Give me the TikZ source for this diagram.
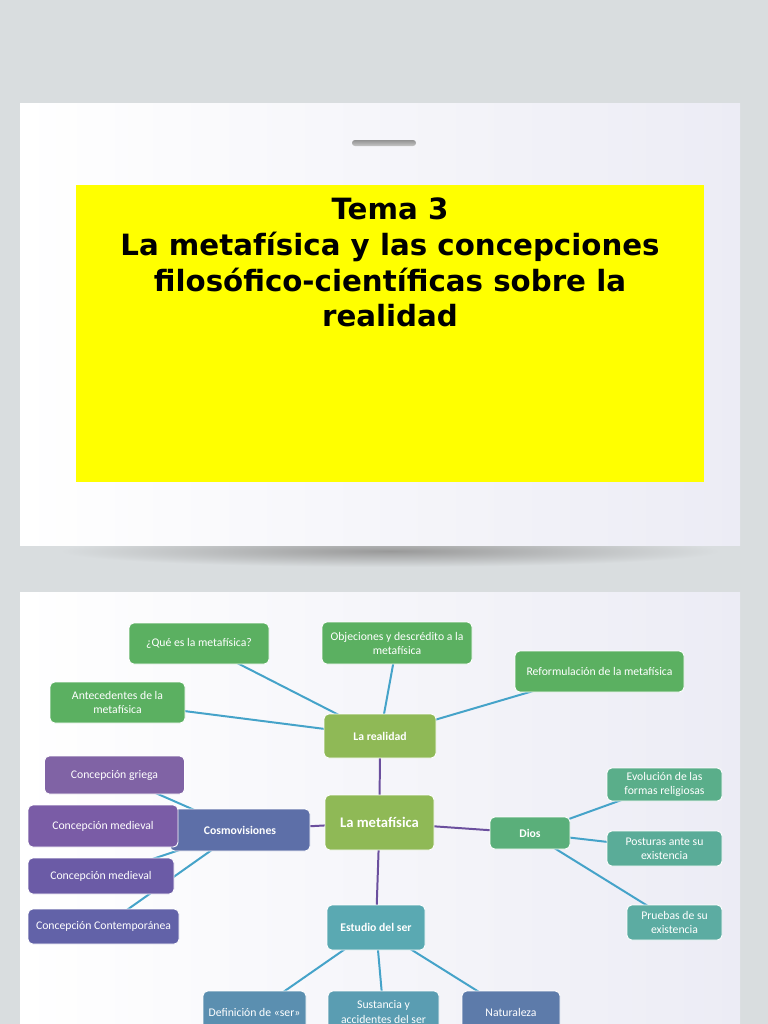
\documentclass[tikz,border=0pt]{standalone}
\usepackage{fontspec}
\setmainfont{Carlito}
\newfontfamily\titlefont{DejaVu Sans}
\usetikzlibrary{positioning}
\usepackage{xcolor}
\definecolor{frame}{HTML}{D9DDDF}
\definecolor{card}{HTML}{ECECF5}
\definecolor{banner}{HTML}{FFFF00}
\definecolor{leafgreen}{HTML}{5BB061}
\definecolor{hubolive}{HTML}{8FB956}
\definecolor{cosmo}{HTML}{5D6FA8}
\definecolor{griega}{HTML}{8063A5}
\definecolor{medA}{HTML}{7A5CA6}
\definecolor{medB}{HTML}{6B5BA6}
\definecolor{contemp}{HTML}{6262A8}
\definecolor{dios}{HTML}{5AAF7A}
\definecolor{evol}{HTML}{5AAE8A}
\definecolor{post}{HTML}{5AAC98}
\definecolor{prue}{HTML}{5CACA2}
\definecolor{estudio}{HTML}{5AA9B2}
\definecolor{defi}{HTML}{5B8FB0}
\definecolor{sust}{HTML}{5A9DB2}
\definecolor{natu}{HTML}{5D7BAA}
\definecolor{leafcol}{HTML}{45A3C9}
\definecolor{hubcol}{HTML}{6B4F9E}

\pgfdeclarelayer{bg}
\pgfdeclarelayer{links}
\pgfsetlayers{bg,links,main}

\begin{document}
\begin{tikzpicture}[
    x=0.03cm, y=-0.03cm,
    box/.style={draw=white, line width=0.8pt, rounded corners=4pt, text=white, align=center,
                inner sep=1pt, font=\fontsize{10}{12}\selectfont},
    hub/.style={box, font=\fontsize{10}{12}\selectfont\bfseries},
    boxsize/.style 2 args={minimum width=#1*0.03cm, minimum height=#2*0.03cm},
    leafline/.style={draw=leafcol, line width=1.7pt},
    hubline/.style={draw=hubcol, line width=1.7pt},
]
\useasboundingbox (0,0) rectangle (768,1024);

% Slides
\begin{pgfonlayer}{bg}
\fill[frame] (0,0) rectangle (768,1024);
\shade[inner color=black!40, outer color=frame] (390,551) ellipse (330 and 16);
\shade[left color=white, right color=card] (20,103) rectangle (740,545);
\shade[top color=gray!85, bottom color=gray!45, rounded corners=2.5pt] (352,140) rectangle (416,146);
\shade[left color=white, right color=card] (20,592) rectangle (740,1024);
\end{pgfonlayer}

% Slide 1: title
\fill[banner] (76,185) rectangle (704,482);
\node[font=\titlefont\bfseries\fontsize{25}{30.6}\selectfont, align=center] (title) at (390,262.5)
    {Tema 3\\La metafísica y las concepciones\\filosófico-científicas sobre la\\realidad};

% Slide 2: mind map
\node[hub, boxsize={109}{55}, fill=hubolive, font=\fontsize{12.5}{14}\selectfont\bfseries] (meta) at (379.5,822.5) {La metafísica};

% La realidad
\node[hub, boxsize={112}{44}, fill=hubolive] (real) at (380,736) {La realidad};
\node[box, boxsize={140}{41}, fill=leafgreen] (que) at (199,643.5) {¿Qué es la metafísica?};
\node[box, boxsize={150}{42}, fill=leafgreen] (obj) at (397,643) {Objeciones y descrédito a la\\metafísica};
\node[box, boxsize={169}{41}, fill=leafgreen] (refo) at (599.5,671.5) {Reformulación de la metafísica};
\node[box, boxsize={135}{41}, fill=leafgreen] (ante) at (117.5,702.5) {Antecedentes de la\\metafísica};

% Cosmovisiones
\node[hub, boxsize={140}{42}, fill=cosmo] (cosmo) at (240,830) {Cosmovisiones};
\node[box, boxsize={140}{38}, fill=griega] (griega) at (114.5,775) {Concepción griega};
\node[box, boxsize={150}{42}, fill=medA] (medA) at (103,826) {Concepción medieval};
\node[box, boxsize={146}{36}, fill=medB] (medB) at (101,876) {Concepción medieval};
\node[box, boxsize={151}{35}, fill=contemp] (contemp) at (103.5,926.5) {Concepción Contemporánea};

% Dios
\node[hub, boxsize={80}{32}, fill=dios] (dios) at (530,833) {Dios};
\node[box, boxsize={115}{33}, fill=evol] (evol) at (664.5,784.5) {Evolución de las\\formas religiosas};
\node[box, boxsize={115}{35}, fill=post] (post) at (664.5,848.5) {Posturas ante su\\existencia};
\node[box, boxsize={95}{35}, fill=prue] (prue) at (674.5,922.5) {Pruebas de su\\existencia};

% Estudio del ser
\node[hub, boxsize={98}{45}, fill=estudio] (estudio) at (376,927.5) {Estudio del ser};
\node[box, boxsize={103}{42}, fill=defi] (defi) at (254.5,1012) {Definición de «ser»};
\node[box, boxsize={111}{42}, fill=sust] (sust) at (383.5,1012) {Sustancia y\\accidentes del ser};
\node[box, boxsize={98}{42}, fill=natu] (natu) at (511,1012) {Naturaleza};

% Connectors, behind the boxes
\begin{pgfonlayer}{links}
\foreach \hb in {real,cosmo,dios,estudio}
    \draw[hubline] (meta.center) -- (\hb.center);
\foreach \lf in {que,obj,refo,ante}
    \draw[leafline] (real.center) -- (\lf.center);
\foreach \lf in {griega,medA,medB,contemp}
    \draw[leafline] (cosmo.center) -- (\lf.center);
\foreach \lf in {evol,post,prue}
    \draw[leafline] (dios.center) -- (\lf.center);
\foreach \lf in {defi,sust,natu}
    \draw[leafline] (estudio.center) -- (\lf.center);
\end{pgfonlayer}

\end{tikzpicture}
\end{document}
